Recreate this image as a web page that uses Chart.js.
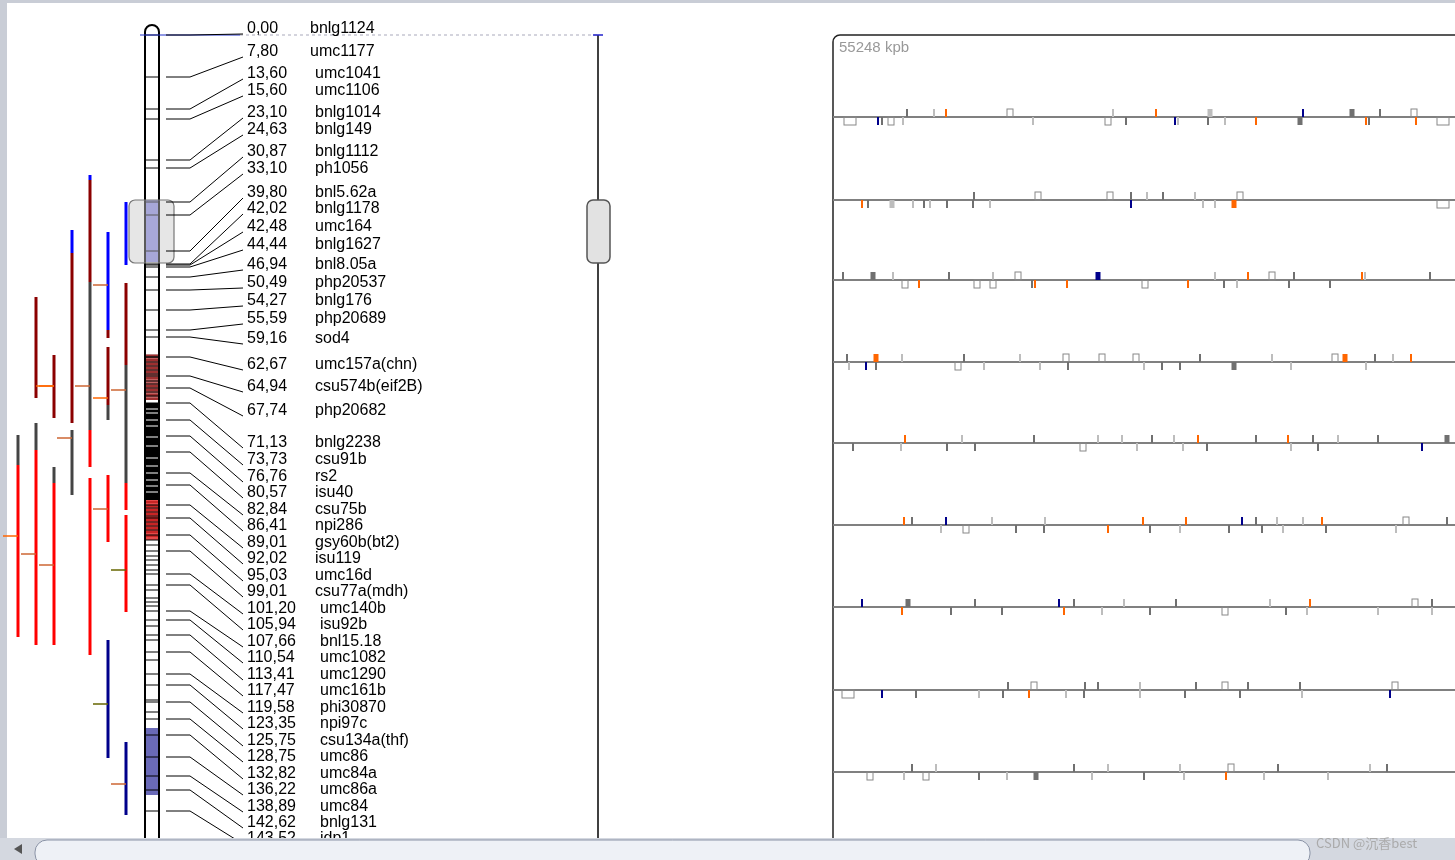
<!DOCTYPE html>
<html><head><meta charset="utf-8">
<script src="https://cdn.jsdelivr.net/npm/chart.js@4/dist/chart.umd.min.js"></script>
<style>html,body{margin:0;padding:0;background:#fff;overflow:hidden}canvas{display:block}</style>
</head><body><canvas id="c" width="1455" height="860"></canvas>
<script>
const markerNames=["bnlg1124","umc1177","umc1041","umc1106","bnlg1014","bnlg149","bnlg1112","ph1056","bnl5.62a","bnlg1178","umc164","bnlg1627","bnl8.05a","php20537","bnlg176","php20689","sod4","umc157a(chn)","csu574b(eif2B)","php20682","bnlg2238","csu91b","rs2","isu40","csu75b","npi286","gsy60b(bt2)","isu119","umc16d","csu77a(mdh)","umc140b","isu92b","bnl15.18","umc1082","umc1290","umc161b","phi30870","npi97c","csu134a(thf)","umc86","umc84a","umc86a","umc84","bnlg131","idp1"];
const markerCM=[0,7.80,13.60,15.60,23.10,24.63,30.87,33.10,39.80,42.02,42.48,44.44,46.94,50.49,54.27,55.59,59.16,62.67,64.94,67.74,71.13,73.73,76.76,80.57,82.84,86.41,89.01,92.02,95.03,99.01,101.20,105.94,107.66,110.54,113.41,117.47,119.58,123.35,125.75,128.75,132.82,136.22,138.89,142.62,143.52];
const markerBand=[35,77,109,119,160,168,202,215,251,264,265,267,277,290,310,330,337,357,376,388,403,420,436,452,473,485,505,518,535,551,574,585,611,620,635,652,674,685,702,719,735,757,776,790,811];
const labelRow=[28,51,73,90,112,129,151,168,192,208,226,244,264,282,300,318,338,364,386,410,442,459,476,492,509,525,542,558,575,591,608,624,641,657,674,690,707,723,740,756,773,789,806,822,838];
const extraBands=[357,362,366,370,374,381,384,392,396,405,408,412,416,424,428,432,440,444,448,456,460,464,468,478,482,490,494,498,508,512,516,522,526,530,540,545,556,560,565,570,590,598,602,606,626,640,660,700,712];
const regions=[[200,262,"#8c8ce6"],[355,400,"#c06060"],[403,500,"#000"],[500,540,"#e64a4a"],[728,795,"#6a6ab8"]];
const qtl=[[18,435,465,"#444"],[18,465,637,"#f00"],[36,297,398,"#8b0000"],[36,423,450,"#444"],[36,450,645,"#f00"],[54,355,418,"#8b0000"],[54,467,483,"#444"],[54,483,645,"#f00"],
[72,230,253,"#00f"],[72,253,423,"#8b0000"],[72,430,495,"#444"],[90,175,180,"#00f"],[90,180,282,"#8b0000"],[90,282,430,"#444"],[90,430,467,"#f00"],[90,478,655,"#f00"],
[108,232,330,"#00f"],[108,330,338,"#8b0000"],[108,347,405,"#8b0000"],[108,405,420,"#444"],[108,475,542,"#f00"],[108,640,758,"#00008b"],
[126,202,265,"#00f"],[126,283,365,"#8b0000"],[126,365,483,"#444"],[126,483,510,"#f00"],[126,515,612,"#f00"],[126,742,815,"#00008b"]];
const qtlTicks=[[54,386,"#f60"],[72,438,"#c63"],[90,386,"#c63"],[108,285,"#c63"],[108,398,"#f60"],[18,536,"#f60"],[36,554,"#c63"],[54,565,"#c63"],[108,509,"#c63"],[108,704,"#660"],[126,784,"#c63"],[126,390,"#c63"],[126,570,"#660"]];
const trackRows=[117,200,280,362,443,525,607,690,772];
const tracks=[
[[907,-1,"d"],[934,-1,"l"],[946,-1,"o"],[1010,-1,"b"],[1113,-1,"l"],[1156,-1,"o"],[1210,-1,"L"],[1303,-1,"n"],[1352,-1,"D"],[1380,-1,"d"],[1414,-1,"b"],[847,1,"b"],[878,1,"n"],[882,1,"d"],[891,1,"b"],[903,1,"l"],[1033,1,"l"],[1108,1,"b"],[1126,1,"d"],[1175,1,"n"],[1178,1,"l"],[1208,1,"d"],[1225,1,"l"],[1256,1,"o"],[1300,1,"D"],[1366,1,"o"],[1369,1,"d"],[1416,1,"o"],[1440,1,"b"]],
[[974,-1,"d"],[1038,-1,"b"],[1110,-1,"b"],[1131,-1,"d"],[1147,-1,"l"],[1163,-1,"d"],[1195,-1,"l"],[1240,-1,"b"],[862,1,"o"],[868,1,"d"],[892,1,"L"],[913,1,"l"],[924,1,"d"],[930,1,"l"],[947,1,"d"],[973,1,"d"],[990,1,"l"],[1131,1,"n"],[1203,1,"l"],[1215,1,"l"],[1234,1,"O"],[1440,1,"b"]],
[[843,-1,"d"],[873,-1,"D"],[893,-1,"l"],[949,-1,"d"],[993,-1,"l"],[1018,-1,"b"],[1098,-1,"N"],[1215,-1,"l"],[1248,-1,"o"],[1272,-1,"b"],[1294,-1,"d"],[1362,-1,"o"],[1365,-1,"l"],[1430,-1,"d"],[905,1,"b"],[919,1,"o"],[977,1,"b"],[993,1,"b"],[1032,1,"d"],[1035,1,"o"],[1067,1,"o"],[1145,1,"b"],[1188,1,"o"],[1224,1,"d"],[1237,1,"l"],[1289,1,"d"],[1330,1,"d"]],
[[847,-1,"d"],[876,-1,"O"],[902,-1,"l"],[964,-1,"d"],[1020,-1,"l"],[1066,-1,"b"],[1102,-1,"b"],[1136,-1,"b"],[1200,-1,"d"],[1272,-1,"l"],[1335,-1,"b"],[1345,-1,"O"],[1375,-1,"d"],[1393,-1,"l"],[1411,-1,"o"],[849,1,"l"],[866,1,"n"],[876,1,"d"],[958,1,"b"],[984,1,"l"],[1040,1,"l"],[1068,1,"d"],[1144,1,"l"],[1162,1,"d"],[1180,1,"d"],[1234,1,"D"],[1291,1,"l"],[1366,1,"l"]],
[[905,-1,"o"],[962,-1,"l"],[1034,-1,"d"],[1098,-1,"l"],[1122,-1,"l"],[1152,-1,"d"],[1174,-1,"l"],[1198,-1,"o"],[1256,-1,"d"],[1288,-1,"o"],[1313,-1,"d"],[1338,-1,"l"],[1378,-1,"d"],[1447,-1,"D"],[853,1,"d"],[901,1,"l"],[947,1,"d"],[975,1,"d"],[1083,1,"b"],[1137,1,"l"],[1183,1,"l"],[1207,1,"d"],[1291,1,"l"],[1318,1,"d"],[1422,1,"n"]],
[[904,-1,"o"],[912,-1,"d"],[946,-1,"n"],[992,-1,"l"],[1045,-1,"l"],[1143,-1,"o"],[1186,-1,"o"],[1242,-1,"n"],[1256,-1,"d"],[1277,-1,"l"],[1303,-1,"l"],[1322,-1,"o"],[1406,-1,"b"],[1447,-1,"d"],[941,1,"l"],[966,1,"b"],[1016,1,"d"],[1044,1,"d"],[1108,1,"o"],[1150,1,"d"],[1180,1,"l"],[1229,1,"d"],[1262,1,"d"],[1283,1,"l"],[1326,1,"d"],[1396,1,"l"]],
[[862,-1,"n"],[908,-1,"D"],[975,-1,"d"],[1059,-1,"n"],[1074,-1,"d"],[1124,-1,"l"],[1176,-1,"d"],[1270,-1,"l"],[1310,-1,"o"],[1415,-1,"b"],[1432,-1,"d"],[902,1,"o"],[951,1,"d"],[1002,1,"d"],[1064,1,"o"],[1102,1,"l"],[1150,1,"d"],[1225,1,"b"],[1286,1,"d"],[1307,1,"l"],[1378,1,"l"],[1432,1,"l"]],
[[1008,-1,"d"],[1034,-1,"b"],[1085,-1,"d"],[1098,-1,"d"],[1140,-1,"l"],[1196,-1,"d"],[1225,-1,"b"],[1248,-1,"d"],[1300,-1,"d"],[1395,-1,"b"],[845,1,"b"],[882,1,"n"],[916,1,"d"],[979,1,"l"],[1003,1,"d"],[1029,1,"o"],[1066,1,"l"],[1084,1,"d"],[1140,1,"l"],[1185,1,"d"],[1240,1,"d"],[1302,1,"l"],[1390,1,"n"]],
[[912,-1,"d"],[936,-1,"l"],[1074,-1,"d"],[1108,-1,"l"],[1180,-1,"l"],[1231,-1,"b"],[1278,-1,"d"],[1370,-1,"l"],[1387,-1,"d"],[870,1,"b"],[904,1,"l"],[926,1,"b"],[979,1,"d"],[1007,1,"l"],[1036,1,"D"],[1092,1,"l"],[1144,1,"d"],[1184,1,"l"],[1226,1,"o"],[1264,1,"l"],[1328,1,"l"]]
];
const kindColor={d:"#707070",D:"#707070",l:"#bdbdbd",L:"#bdbdbd",o:"#ff6600",O:"#ff6600",n:"#00008b",N:"#00008b",b:"#888"};

const drawAll={id:"drawAll",afterDatasetsDraw(chart){
 const c=chart.ctx,X=v=>chart.scales.x.getPixelForValue(v),Y=v=>chart.scales.y.getPixelForValue(v);
 c.save();
 c.fillStyle="#c9cdd6";c.fillRect(X(0),Y(0),X(7)-X(0),Y(860)-Y(0));
 c.fillRect(X(0),Y(0),X(1455)-X(0),Y(3)-Y(0));
 c.lineWidth=3;
 qtl.forEach(q=>{c.strokeStyle=q[3];c.beginPath();c.moveTo(X(q[0]),Y(q[1]));c.lineTo(X(q[0]),Y(q[2]));c.stroke();});
 c.lineWidth=1.5;
 qtlTicks.forEach(t=>{c.strokeStyle=t[2];c.beginPath();c.moveTo(X(t[0]-15),Y(t[1]));c.lineTo(X(t[0]),Y(t[1]));c.stroke();});
 c.strokeStyle="#f60";c.beginPath();c.moveTo(X(36),Y(386));c.lineTo(X(54),Y(386));c.stroke();
 const cx0=X(145),cx1=X(159);
 c.fillStyle="#fff";c.fillRect(cx0,Y(30),cx1-cx0,Y(840)-Y(30));
 regions.forEach(r=>{c.fillStyle=r[2];c.fillRect(cx0,Y(r[0]),cx1-cx0,Y(r[1])-Y(r[0]));});
 c.lineWidth=1;
 [355,360,364,368,372,378,386,390,395,399,502,506,510,514,518,520,524,528,532,536].forEach(b=>{c.strokeStyle=(b<400)?"#7a0000":"#a00";c.beginPath();c.moveTo(cx0,Y(b));c.lineTo(cx1,Y(b));c.stroke();});
 c.strokeStyle="#fff";[409,413,420,426,437,446,458,466,473,480,486,492].forEach(b=>{c.beginPath();c.moveTo(cx0,Y(b));c.lineTo(cx1,Y(b));c.stroke();});
 c.strokeStyle="#000";
 markerBand.concat(extraBands).forEach(b=>{if(b>403&&b<500)return;c.beginPath();c.moveTo(cx0,Y(b));c.lineTo(cx1,Y(b));c.stroke();});
 c.lineWidth=2;c.beginPath();c.moveTo(cx0,Y(840));c.lineTo(cx0,Y(32));c.arc((cx0+cx1)/2,Y(32),(cx1-cx0)/2,Math.PI,0);c.lineTo(cx1,Y(840));c.stroke();
 c.fillStyle="rgba(200,200,200,0.45)";c.strokeStyle="#777";c.lineWidth=1.2;
 c.beginPath();c.roundRect(X(129),Y(200),X(174)-X(129),Y(263)-Y(200),6);c.fill();c.stroke();
 c.strokeStyle="#2233cc";c.lineWidth=1;c.beginPath();c.moveTo(X(140),Y(35));c.lineTo(X(240),Y(35));c.stroke();
 c.strokeStyle="#aab";c.setLineDash([3,3]);c.beginPath();c.moveTo(X(240),Y(35));c.lineTo(X(600),Y(35));c.stroke();c.setLineDash([]);
 c.strokeStyle="#000";c.lineWidth=1;c.fillStyle="#000";c.font="16px 'Liberation Sans', Arial, sans-serif";c.textBaseline="middle";
 markerNames.forEach((n,i)=>{
   const by=Y(markerBand[i]),ly=Y(labelRow[i]+6);
   c.beginPath();c.moveTo(X(166),by);c.lineTo(X(190),by);c.lineTo(X(243),ly);c.stroke();
   c.fillText(markerCM[i].toFixed(2).replace(".",","),X(247),Y(labelRow[i]+1));
   c.fillText(n,X(i<2?310:(markerCM[i]>100?320:315)),Y(labelRow[i]+1));
 });
 c.strokeStyle="#000";c.lineWidth=1.5;c.beginPath();c.moveTo(X(598),Y(35));c.lineTo(X(598),Y(840));c.stroke();
 c.beginPath();c.moveTo(X(593),Y(35));c.lineTo(X(603),Y(35));c.strokeStyle="#22c";c.stroke();
 c.fillStyle="#e2e2e2";c.strokeStyle="#555";c.beginPath();c.roundRect(X(587),Y(200),X(610)-X(587),Y(263)-Y(200),6);c.fill();c.stroke();
 c.strokeStyle="#222";c.lineWidth=1.5;c.beginPath();c.moveTo(X(833),Y(842));c.lineTo(X(833),Y(42));c.arcTo(X(833),Y(35),X(841),Y(35),7);c.lineTo(X(1455),Y(35));c.stroke();
 c.fillStyle="#999";c.font="15px 'Liberation Sans', Arial, sans-serif";c.fillText("55248 kpb",X(839),Y(48));
 trackRows.forEach((ry,ti)=>{
   c.strokeStyle="#808080";c.lineWidth=2;c.beginPath();c.moveTo(X(833),Y(ry));c.lineTo(X(1455),Y(ry));c.stroke();
   tracks[ti].forEach(t=>{
     const k=t[2],col=kindColor[k],x=X(t[0]),y0=Y(ry),y1=Y(ry+t[1]*8);
     if(k==="b"){c.strokeStyle=col;c.lineWidth=1;c.strokeRect(x-3,Math.min(y0,y1),t[0]>1430||t[0]<850?12:6,Math.abs(y1-y0));}
     else{c.fillStyle=col;const w=(k===k.toUpperCase())?5:2;c.fillRect(x-w/2,Math.min(y0,y1),w,Math.abs(y1-y0));}
   });
 });
 c.fillStyle="#d4d8e0";c.fillRect(X(0),Y(838),X(1455)-X(0),Y(860)-Y(838));
 c.fillStyle="#eef1f6";c.strokeStyle="#8a93a6";c.lineWidth=1;
 c.beginPath();c.roundRect(X(35),Y(840),X(1310)-X(35),Y(866)-Y(840),12);c.fill();c.stroke();
 c.fillStyle="#555";c.beginPath();c.moveTo(X(14),Y(849));c.lineTo(X(22),Y(844));c.lineTo(X(22),Y(854));c.fill();
 c.fillStyle="#aaa";c.font="13px 'Noto Sans CJK SC', sans-serif";c.fillText("CSDN @沉香best",X(1316),Y(843));
 c.restore();
}};
new Chart(document.getElementById("c"),{type:"scatter",data:{datasets:[{data:[]}]},
 options:{responsive:false,animation:false,layout:{padding:0},
  plugins:{legend:{display:false},tooltip:{enabled:false}},
  scales:{x:{type:"linear",min:0,max:1455,display:false},y:{type:"linear",min:0,max:860,reverse:true,display:false}}},
 plugins:[drawAll]});
</script></body></html>
